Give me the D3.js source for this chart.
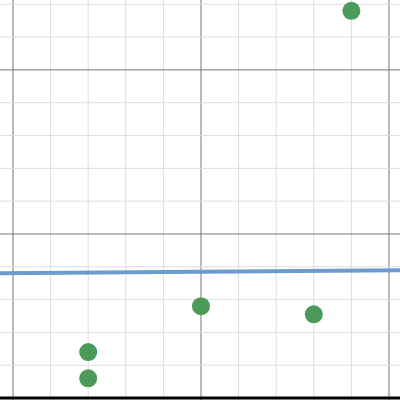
<!DOCTYPE html>
<html><head><meta charset="utf-8">
<script src="https://cdn.jsdelivr.net/npm/d3@7"></script>
<style>body{margin:0;background:#fff}svg{display:block}</style>
</head><body>
<script>
const pointsX = [7, 7, 10, 13, 14];
const pointsY = [1.4, 0.6, 2.8, 2.55, 11.8];
const lineX = [4, 16];
const lineY = [3.8, 3.9];

const W = 400, H = 400;
const x = d3.scaleLinear().domain([4.654, 15.293]).range([0, 400]);
const y = d3.scaleLinear().domain([-0.06, 12.13]).range([400, 0]);
const svg = d3.select("body").append("svg").attr("width", W).attr("height", H);

const xs = d3.range(4, 17, 1), ys = d3.range(0, 13, 1);
svg.selectAll(".vx").data(xs).enter().append("line")
  .attr("x1", d => x(d)).attr("x2", d => x(d)).attr("y1", 0).attr("y2", H)
  .attr("stroke", d => d % 5 === 0 ? "#777" : "#ddd").attr("stroke-width", 1);
svg.selectAll(".hy").data(ys).enter().append("line")
  .attr("y1", d => y(d)).attr("y2", d => y(d)).attr("x1", 0).attr("x2", W)
  .attr("stroke", d => d === 0 ? "#000" : (d % 5 === 0 ? "#777" : "#ddd"))
  .attr("stroke-width", d => d === 0 ? 3 : 1);

svg.append("path").datum(lineX.map((v, i) => [v, lineY[i]]))
  .attr("d", d3.line().x(d => x(d[0])).y(d => y(d[1])))
  .attr("stroke", "#6b9ccd").attr("stroke-width", 4).attr("fill", "none");

svg.selectAll("circle").data(pointsX.map((v, i) => [v, pointsY[i]])).enter().append("circle")
  .attr("cx", d => x(d[0])).attr("cy", d => y(d[1])).attr("r", 9)
  .attr("fill", "#4b9a59");
</script>
</body></html>
